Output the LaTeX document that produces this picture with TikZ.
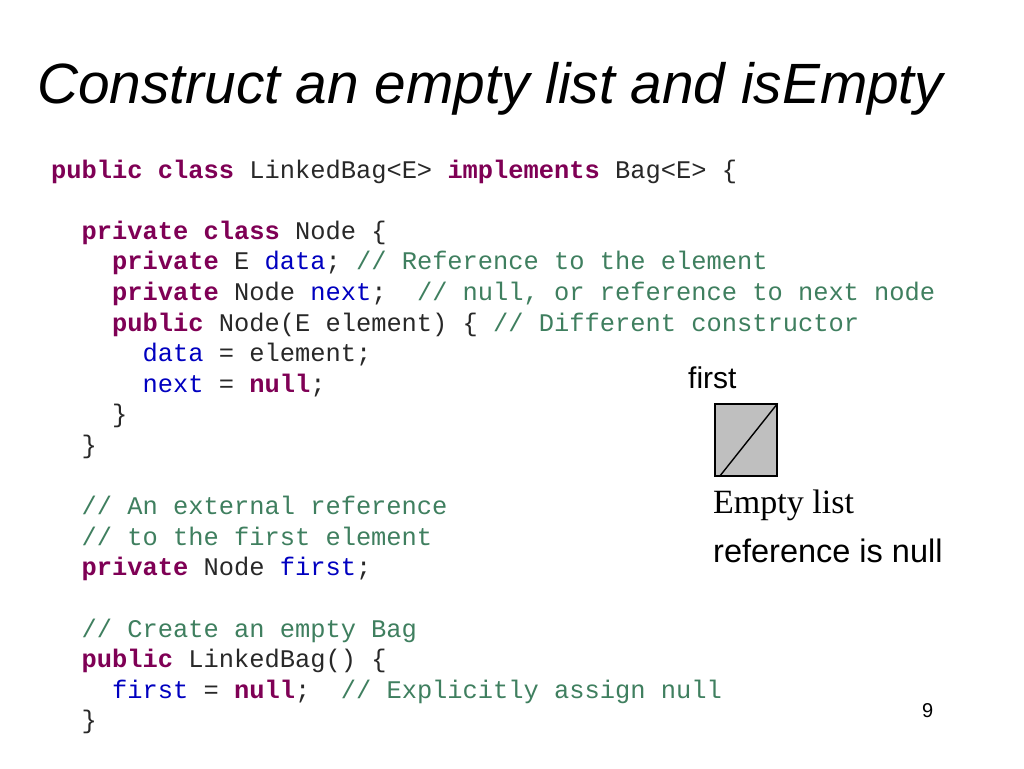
\documentclass[tikz,border=0pt]{standalone}
\usepackage{fontspec}
\setmainfont{Liberation Sans}
\newfontfamily\codefont{Liberation Mono}
\newfontfamily\serifx{Liberation Serif}
\definecolor{kw}{RGB}{127,0,85}
\definecolor{fld}{RGB}{0,0,192}
\definecolor{cm}{RGB}{63,127,95}
\definecolor{txt}{RGB}{40,40,40}
\newcommand{\K}[1]{\textcolor{kw}{\textbf{#1}}}
\newcommand{\F}[1]{\textcolor{fld}{#1}}
\newcommand{\Cm}[1]{\textcolor{cm}{#1}}
\begin{document}
\begin{tikzpicture}[x=1pt,y=-1pt,
  code/.style={anchor=base west,inner sep=0pt,font=\codefont\fontsize{25.4}{30}\selectfont,text=txt},
  lbl/.style={anchor=base west,inner sep=0pt}]
\useasboundingbox (0,0) rectangle (1024,768);
\fill[white] (0,0) rectangle (1024,768);
\node[lbl,font=\fontsize{56.8}{60}\selectfont\itshape] (title) at (37,103) {Construct an empty list and isEmpty};
\def\y#1{178+30.6*#1}
\node[code] (l0) at (51,{\y0}) {\K{public} \K{class} LinkedBag<E> \K{implements} Bag<E> \{};
\node[code] (l2) at (51,{\y2}) {\ \ \K{private} \K{class} Node \{};
\node[code] (l3) at (51,{\y3}) {\ \ \ \ \K{private} E \F{data}; \Cm{// Reference to the element}};
\node[code] (l4) at (51,{\y4}) {\ \ \ \ \K{private} Node \F{next};\ \ \Cm{// null, or reference to next node}};
\node[code] (l5) at (51,{\y5}) {\ \ \ \ \K{public} Node(E element) \{ \Cm{// Different constructor}};
\node[code] (l6) at (51,{\y6}) {\ \ \ \ \ \ \F{data} = element;};
\node[code] (l7) at (51,{\y7}) {\ \ \ \ \ \ \F{next} = \K{null};};
\node[code] (l8) at (51,{\y8}) {\ \ \ \ \}};
\node[code] (l9) at (51,{\y9}) {\ \ \}};
\node[code] (l11) at (51,{\y{11}}) {\ \ \Cm{// An external reference}};
\node[code] (l12) at (51,{\y{12}}) {\ \ \Cm{// to the first element}};
\node[code] (l13) at (51,{\y{13}}) {\ \ \K{private} Node \F{first};};
\node[code] (l15) at (51,{\y{15}}) {\ \ \Cm{// Create an empty Bag}};
\node[code] (l16) at (51,{\y{16}}) {\ \ \K{public} LinkedBag() \{};
\node[code] (l17) at (51,{\y{17}}) {\ \ \ \ \F{first} = \K{null};\ \ \Cm{// Explicitly assign null}};
\node[code] (l18) at (51,{\y{18}}) {\ \ \}};
\node[lbl,font=\fontsize{30}{30}\selectfont] (first) at (688,388) {first};
\node[draw=black,fill=black!25,line width=1.2pt,minimum width=62pt,minimum height=72pt,inner sep=0pt] (box) at (746,440) {};
\draw[line width=1.4pt] ([xshift=5pt]box.south west) -- (box.north east);
\node[lbl,font=\serifx\fontsize{34}{36}\selectfont] (empty) at (713,513) {Empty list};
\node[lbl,font=\fontsize{32.5}{34}\selectfont] (null) at (713,562) {reference is null};
\node[lbl,font=\fontsize{20}{22}\selectfont] (pg) at (922,717) {9};
\end{tikzpicture}
\end{document}
